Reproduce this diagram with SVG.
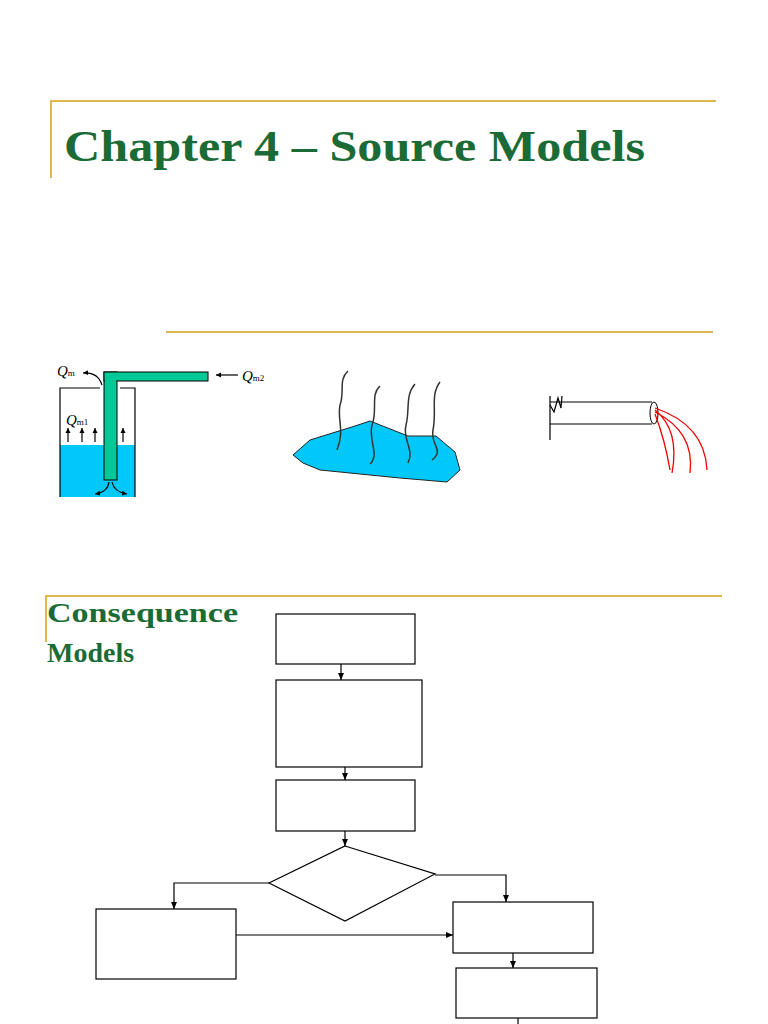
<svg xmlns="http://www.w3.org/2000/svg" width="768" height="1024" viewBox="0 0 768 1024">
<style>
.gold{stroke:#d4a017;stroke-width:1.5;fill:none}
.box{fill:#fff;stroke:#000;stroke-width:1.2}
.ln{stroke:#000;stroke-width:1.2;fill:none}
.q{font-family:"Liberation Serif",serif;font-style:italic;font-size:15px}
.s{font-family:"Liberation Serif",serif;font-size:9px}
.h{font-family:"Liberation Serif",serif;font-weight:bold;fill:#1a6b35}
.wave{stroke:#333;stroke-width:1.5;fill:none}
.red{stroke:#e00;stroke-width:1.3;fill:none}
</style>
<defs><marker id="a" markerWidth="8" markerHeight="8" refX="7" refY="4" orient="auto" markerUnits="userSpaceOnUse"><path d="M0,1L7,4L0,7z" fill="#000"/></marker>
<marker id="sa" markerWidth="6" markerHeight="6" refX="5" refY="3" orient="auto" markerUnits="userSpaceOnUse"><path d="M0,0.5L5,3L0,5.5z" fill="#000"/></marker></defs>
<rect width="768" height="1024" fill="#fff"/>
<path class="gold" d="M51,178V101H716"/>
<text class="h" x="64" y="161" font-size="45" textLength="581" lengthAdjust="spacingAndGlyphs">Chapter 4 – Source Models</text>
<path class="gold" d="M166,332H713"/>
<path class="gold" d="M46,642V596H722"/>
<text class="h" x="47" y="622" font-size="28" textLength="191" lengthAdjust="spacingAndGlyphs">Consequence</text>
<text class="h" x="47" y="662" font-size="28">Models</text>
<g id="tank">
<rect x="60" y="445" width="75" height="52" fill="#00c8f8"/>
<path class="ln" d="M100,388H60V497M120,388H135V497"/>
<rect x="104" y="372" width="13" height="108" fill="#00c896" stroke="#000"/>
<rect x="104" y="372" width="104" height="9" fill="#00c896" stroke="#000"/>
<rect x="105" y="373" width="11" height="10" fill="#00c896"/>
<path class="ln" d="M68,442V428" marker-end="url(#sa)"/>
<path class="ln" d="M82,442V428" marker-end="url(#sa)"/>
<path class="ln" d="M95,442V428" marker-end="url(#sa)"/>
<path class="ln" d="M123,442V428" marker-end="url(#sa)"/>
<path class="ln" d="M102,385Q98,372 83,373" marker-end="url(#sa)"/>
<path class="ln" d="M109,482Q108,492 95,494" marker-end="url(#sa)"/>
<path class="ln" d="M112,482Q114,492 127,494" marker-end="url(#sa)"/>
<path class="ln" d="M238,375H216" marker-end="url(#sa)"/>
<text class="q" x="57" y="376">Q<tspan class="s" font-style="normal">m</tspan></text>
<text class="q" x="66" y="425">Q<tspan class="s" font-style="normal">m1</tspan></text>
<text class="q" x="242" y="381">Q<tspan class="s" font-style="normal">m2</tspan></text>
</g>
<g id="pool">
<path d="M293,455L310,440L355,426L370,421L408,436L436,436L455,452L460,470L447,482L400,478L320,470L303,463Z" fill="#00c8f8" stroke="#222"/>
<path class="wave" d="M348,371C338,380 345,392 340,405C337,420 345,430 337,450M380,386C370,395 378,410 372,425C368,440 380,455 370,464M415,384C405,395 410,410 406,425C402,440 415,450 408,463M440,382C430,395 437,410 433,430C430,445 445,450 432,460"/>
</g>
<g id="pipe">
<path class="ln" d="M550,402H652M550,424H652M550,396V440"/>
<path class="ln" d="M550,405L554,412L558,398L561,408L562,396"/>
<ellipse cx="654" cy="413" rx="4" ry="11" fill="#fff" stroke="#000"/>
<path class="red" d="M655,410Q680,430 672,473M655,412Q695,432 690,473M655,408Q705,425 707,470M655,414Q665,440 670,470"/>
</g>
<g id="c" class="ln">
<path d="M341,664V680" marker-end="url(#a)"/>
<path d="M345,767V780" marker-end="url(#a)"/>
<path d="M345,831V846" marker-end="url(#a)"/>
<path d="M269,883H174V909" marker-end="url(#a)"/>
<path d="M435,875H506V902" marker-end="url(#a)"/>
<path d="M236,935H453" marker-end="url(#a)"/>
<path d="M513,953V968" marker-end="url(#a)"/>
<path d="M518,1018V1024"/>
</g>
<g id="n1"><rect class="box" x="276" y="614" width="139" height="50"/></g>
<g id="n2"><rect class="box" x="276" y="680" width="146" height="87"/></g>
<g id="n3"><rect class="box" x="276" y="780" width="139" height="51"/></g>
<g id="n4"><path class="box" d="M345,846L435,874L345,921L269,883Z"/></g>
<g id="n5"><rect class="box" x="96" y="909" width="140" height="70"/></g>
<g id="n6"><rect class="box" x="453" y="902" width="140" height="51"/></g>
<g id="n7"><rect class="box" x="456" y="968" width="141" height="50"/></g>
</svg>
